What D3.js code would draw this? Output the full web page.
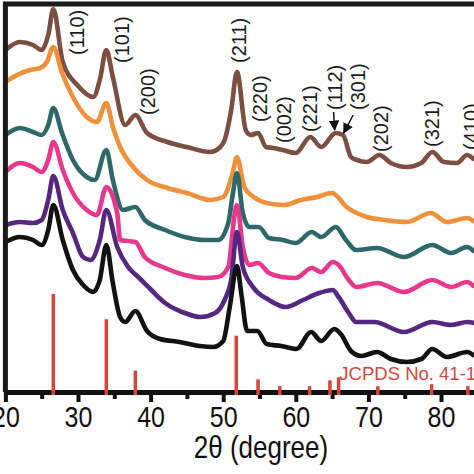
<!DOCTYPE html>
<html>
<head>
<meta charset="utf-8">
<script src="https://cdn.jsdelivr.net/npm/d3@7"></script>
<style>
html, body { margin: 0; padding: 0; background: #fff; }
svg { display: block; font-family: "Liberation Sans", Arial, sans-serif; }
</style>
</head>
<body>
<svg id="chart" width="474" height="474"></svg>
<script>
// XRD patterns, [2theta, counts (a.u., stacked)]
var brown = [[20.0,3410],[22.0,3490],[23.8,3460],[25.0,3410],[25.9,3560],[26.6,3820],[27.9,3290],[29.9,3060],[32.1,2940],[33.0,3110],[33.9,3410],[34.8,3140],[36.5,2660],[37.9,2760],[39.5,2580],[42.3,2490],[45.0,2440],[48.2,2390],[49.6,2440],[50.2,2510],[51.1,2810],[51.9,3190],[53.1,2610],[53.8,2560],[54.8,2580],[55.9,2440],[56.9,2430],[58.2,2410],[60.0,2380],[62.0,2540],[63.5,2440],[65.5,2580],[66.5,2560],[67.6,2340],[68.4,2310],[69.8,2290],[71.5,2360],[73.1,2280],[75.3,2240],[77.3,2280],[78.8,2390],[80.4,2290],[82.2,2280],[83.6,2360],[84.6,2310]];
var orange = [[20.0,3090],[21.6,3160],[23.4,3210],[24.8,3230],[25.7,3290],[26.6,3440],[27.8,3180],[29.3,2940],[31.2,2740],[32.6,2690],[33.9,2880],[34.8,2640],[35.8,2440],[37.6,2240],[39.5,2110],[42.3,2030],[45.0,1980],[48.2,1910],[50.0,1940],[51.3,2180],[51.9,2340],[52.9,2040],[54.2,1940],[56.0,1880],[58.4,1860],[60.7,1910],[62.9,1940],[65.0,1980],[67.0,1840],[69.8,1740],[72.2,1710],[75.3,1690],[78.6,1780],[80.8,1690],[83.6,1730],[84.6,1690]];
var teal = [[20.0,2560],[22.0,2630],[23.8,2590],[25.0,2560],[25.9,2660],[26.6,2830],[27.8,2580],[29.3,2310],[31.2,2140],[32.3,2110],[33.9,2410],[34.8,2110],[36.2,1810],[37.9,1840],[39.2,1710],[42.0,1610],[44.7,1540],[47.5,1510],[49.3,1510],[50.7,1680],[51.3,1960],[51.9,2180],[52.7,1780],[53.6,1640],[54.9,1640],[56.3,1530],[58.2,1510],[60.0,1480],[62.2,1590],[63.5,1540],[65.5,1640],[66.9,1510],[68.3,1410],[71.2,1430],[74.9,1340],[78.8,1460],[81.4,1380],[83.6,1440],[84.6,1390]];
var pink = [[20.0,2190],[22.0,2280],[23.8,2240],[25.0,2190],[25.9,2310],[26.6,2490],[27.9,2210],[29.3,1980],[31.2,1810],[32.6,1760],[33.9,2040],[35.4,1780],[35.8,1510],[37.9,1490],[39.2,1340],[42.0,1230],[44.7,1160],[47.5,1130],[49.3,1140],[50.7,1240],[51.6,1780],[51.9,1860],[52.7,1440],[53.6,1260],[54.8,1280],[56.3,1180],[58.2,1140],[60.0,1130],[62.2,1230],[63.5,1190],[65.1,1290],[65.9,1260],[67.3,1110],[68.3,1040],[71.2,1080],[74.9,990],[78.8,1110],[81.4,1040],[83.6,1090],[84.6,1040]];
var purple = [[20.0,1660],[22.0,1690],[23.8,1680],[25.0,1710],[25.9,1910],[26.6,2150],[27.9,1810],[29.3,1580],[30.7,1340],[31.7,1310],[33.0,1510],[33.9,1810],[35.4,1440],[36.9,1240],[38.3,1140],[40.1,1010],[42.0,880],[44.7,780],[46.9,740],[48.9,780],[50.2,910],[51.1,1110],[51.9,1590],[52.7,1240],[54.1,1040],[56.3,910],[58.6,840],[61.0,910],[63.2,980],[65.1,1010],[65.9,940],[67.3,780],[68.3,690],[70.8,690],[74.9,590],[78.8,690],[81.4,660],[83.6,690],[84.6,680]];
var black = [[20.0,1490],[22.0,1540],[23.8,1510],[25.0,1460],[25.9,1610],[26.6,1860],[27.9,1510],[29.3,1210],[30.7,1060],[32.1,990],[33.0,1110],[33.9,1460],[34.8,1080],[35.8,740],[36.5,690],[37.9,800],[39.5,600],[41.3,520],[44.0,490],[46.8,450],[48.6,440],[50.0,500],[50.9,840],[51.9,1250],[52.5,970],[53.3,600],[54.7,600],[56.0,470],[58.0,450],[60.1,420],[62.1,590],[63.5,500],[65.3,620],[66.2,570],[67.6,400],[69.0,350],[71.2,390],[73.1,320],[75.3,290],[77.3,320],[78.8,420],[80.8,340],[83.6,390],[84.6,350]];

var seriesList = [brown, orange, teal, pink, purple, black];
var seriesColors = ["#7b5043", "#f0903a", "#2e6868", "#e8388e", "#55277f", "#121212"];

// JCPDS No. 41-1445 reference lines
var refTheta = [26.6, 33.9, 37.9, 51.8, 54.8, 57.8, 61.9, 64.7, 65.9, 71.3, 78.7, 83.7];
var refIntensity = [100, 74, 21, 57, 12, 5, 5, 11, 14, 5, 7, 5];

// hkl labels
var hklText = ["(110)", "(101)", "(200)", "(211)", "(220)", "(002)", "(221)", "(112)", "(301)", "(202)", "(321)", "(410)"];
var hklTheta = [29.8, 36.1, 39.6, 52.2, 55.1, 58.4, 62.0, 65.4, 68.6, 71.7, 78.8, 84.1];
var hklCounts = [3360, 3280, 2760, 3280, 2690, 2480, 2590, 2810, 2810, 2390, 2440, 2410];

var majorTicks = [20, 30, 40, 50, 60, 70, 80];
var minorTicks = [25, 35, 45, 55, 65, 75, 85];

var svg = d3.select('#chart');

var xScale = d3.scaleLinear().domain([20, 90]).range([5.4, 513.6]);
var yScale = d3.scaleLinear().domain([0, 3840]).range([391, 7]);
var stickScale = d3.scaleLinear().domain([0, 100]).range([391, 294]);

var axisY = 392;

// curves
var line = d3.line()
    .x(d => xScale(d[0]))
    .y(d => yScale(d[1]))
    .curve(d3.curveMonotoneX);

svg.append('g').selectAll('path')
    .data(seriesList)
    .join('path')
    .attr('d', line)
    .attr('fill', 'none')
    .attr('stroke', (d, i) => seriesColors[i])
    .attr('stroke-width', 4.6)
    .attr('stroke-linejoin', 'round');

// frame (left + top)
svg.append('path')
    .attr('d', 'M' + xScale(20) + ',' + axisY + 'V4H480')
    .attr('fill', 'none')
    .attr('stroke', '#1a1a1a')
    .attr('stroke-width', 5);

// bottom axis
var xAxis = d3.axisBottom(xScale)
    .tickValues(majorTicks)
    .tickSizeInner(10)
    .tickSizeOuter(0)
    .tickFormat(d3.format('d'));

var gx = svg.append('g')
    .attr('transform', 'translate(0,' + axisY + ')')
    .call(xAxis);
gx.select('.domain').attr('stroke', '#111').attr('stroke-width', 5);
gx.selectAll('.tick line').attr('stroke', '#111').attr('stroke-width', 4);
gx.selectAll('.tick text')
    .attr('y', null)
    .attr('dy', null)
    .attr('transform', 'translate(0,35) scale(1,1.18)')
    .attr('font-size', 25)
    .attr('font-family', '"Liberation Sans", Arial, sans-serif')
    .attr('fill', '#111');

var gMinor = svg.append('g')
    .attr('transform', 'translate(0,' + axisY + ')')
    .call(d3.axisBottom(xScale).tickValues(minorTicks).tickSizeInner(7).tickSizeOuter(0).tickFormat(''));
gMinor.select('.domain').remove();
gMinor.selectAll('.tick line').attr('stroke', '#111').attr('stroke-width', 4);

// reference sticks
svg.append('g').selectAll('line')
    .data(refTheta)
    .join('line')
    .attr('x1', d => xScale(d))
    .attr('x2', d => xScale(d))
    .attr('y1', axisY + 3)
    .attr('y2', (d, i) => stickScale(refIntensity[i]))
    .attr('stroke', '#d8453b')
    .attr('stroke-width', 3.5);

svg.append('text')
    .attr('x', xScale(66.0))
    .attr('y', yScale(110))
    .attr('font-size', 18.5)
    .attr('fill', '#d0493f')
    .text('JCPDS No. 41-1445');

// hkl labels, rotated
svg.append('g').selectAll('text')
    .data(hklText)
    .join('text')
    .attr('transform', (d, i) => 'translate(' + xScale(hklTheta[i]) + ',' + yScale(hklCounts[i]) + ') rotate(-90)')
    .attr('dominant-baseline', 'central')
    .attr('font-size', 20)
    .attr('fill', '#1c1c1c')
    .text(d => d);

// arrows for (112) and (301)
svg.append('defs').append('marker')
    .attr('id', 'arrow')
    .attr('viewBox', '0 0 10 10')
    .attr('refX', 9).attr('refY', 5)
    .attr('markerWidth', 7).attr('markerHeight', 7)
    .attr('orient', 'auto')
    .append('path').attr('d', 'M0,0L10,5L0,10z').attr('fill', '#111');

var arrows = [[65.2, 2790, 65.35, 2610], [67.9, 2760, 66.6, 2580]];
svg.append('g').selectAll('line')
    .data(arrows)
    .join('line')
    .attr('x1', d => xScale(d[0]))
    .attr('y1', d => yScale(d[1]))
    .attr('x2', d => xScale(d[2]))
    .attr('y2', d => yScale(d[3]))
    .attr('stroke', '#111')
    .attr('stroke-width', 1.5)
    .attr('marker-end', 'url(#arrow)');

// axis title
svg.append('text')
    .attr('transform', 'translate(261,458) scale(1,1.18)')
    .attr('text-anchor', 'middle')
    .attr('font-size', 26)
    .attr('fill', '#111')
    .text('2θ (degree)');
</script>
</body>
</html>
